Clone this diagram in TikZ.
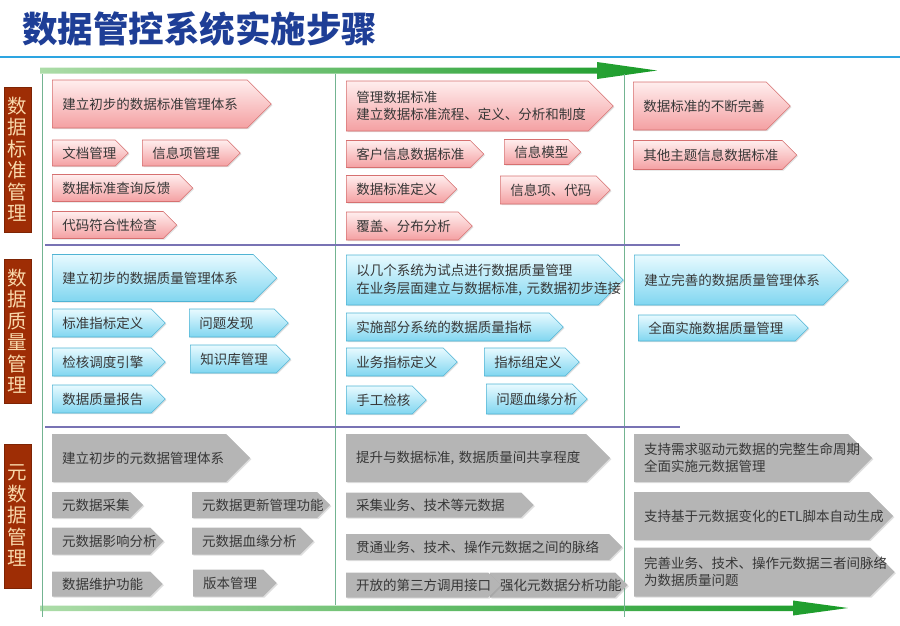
\documentclass[tikz,border=0pt]{standalone}
\usepackage{fontspec}
\setmainfont{Noto Sans CJK SC}
\usetikzlibrary{shapes.symbols,shadows}
\definecolor{titleblue}{RGB}{30,62,150}
\definecolor{ruleblue}{RGB}{45,165,225}
\definecolor{lightgreen}{RGB}{172,220,168}
\definecolor{darkgreen}{RGB}{25,155,40}
\definecolor{gridgreen}{RGB}{115,180,145}
\definecolor{gridpurple}{RGB}{120,115,180}
\definecolor{sidebrown}{RGB}{158,45,5}
\definecolor{sidetext}{RGB}{248,215,170}
\definecolor{pinktop}{RGB}{255,238,238}
\definecolor{pinkbottom}{RGB}{244,160,162}
\definecolor{pinkline}{RGB}{214,112,112}
\definecolor{bluetop}{RGB}{232,250,255}
\definecolor{bluebottom}{RGB}{128,214,240}
\definecolor{blueline}{RGB}{80,180,212}
\definecolor{grayfill}{RGB}{181,181,181}
\definecolor{boxtext}{RGB}{55,55,55}
\begin{document}
\begin{tikzpicture}[x=1pt, y=-1pt,
  stepshape/.style={shape=signal, signal to=east, signal pointer angle=90, inner xsep=10pt, inner ysep=2pt, anchor=west, align=left, text=boxtext, font=\fontsize{13.5}{17.5}\selectfont, drop shadow={opacity=0.25, shadow xshift=1.2pt, shadow yshift=-1.2pt}},
  pinkstep/.style={stepshape, draw=pinkline, line width=0.6pt, top color=pinktop, bottom color=pinkbottom},
  bluestep/.style={stepshape, draw=blueline, line width=0.6pt, top color=bluetop, bottom color=bluebottom},
  graystep/.style={stepshape, fill=grayfill},
  sidelabel/.style={fill=sidebrown, draw=sidebrown!80!black, text=sidetext, minimum width=27pt, inner sep=0pt, align=center, font=\fontsize{19.5}{21.5}\selectfont}]
\useasboundingbox (0,0) rectangle (900,625);
\node[anchor=west, inner sep=0pt, text=titleblue, font=\fontsize{35.5}{36}\selectfont\bfseries] (title) at (22,29) {数据管控系统实施步骤};
\draw[ruleblue, line width=2.5pt] (0,57) -- (900,57);
\shade[left color=lightgreen, right color=darkgreen] (40,67.5) -- (597,67.5) -- (597,62) -- (657,70.5) -- (597,79) -- (597,73.5) -- (40,73.5) -- cycle;
\shade[left color=lightgreen, right color=darkgreen] (40,605.5) -- (793,605.5) -- (793,600.5) -- (848,608) -- (793,615.5) -- (793,611) -- (40,611) -- cycle;
\draw[gridgreen, line width=1pt] (42,74) -- (42,617);
\draw[gridgreen, line width=1pt] (335,74) -- (335,605);
\draw[gridgreen, line width=1pt] (624,74) -- (624,617);
\draw[gridpurple, line width=1.2pt] (45,245) -- (680,245);
\draw[gridpurple, line width=1.2pt] (45,427) -- (680,427);
\node[sidelabel, minimum height=145pt] (sidestd) at (17.5,159.5) {数\\据\\标\\准\\管\\理};
\node[sidelabel, minimum height=144pt] (sidedq) at (17.5,331) {数\\据\\质\\量\\管\\理};
\node[sidelabel, minimum height=144pt] (sidemeta) at (17.5,516) {元\\数\\据\\管\\理};
\node[pinkstep, minimum height=48pt, text width=175pt] (std1) at (52,104) {建立初步的数据标准管理体系};
\node[pinkstep, minimum height=26pt, text width=43pt] (std2) at (52,153) {文档管理};
\node[pinkstep, minimum height=26pt, text width=65pt] (std3) at (142,153) {信息项管理};
\node[pinkstep, minimum height=27pt, text width=107pt] (std4) at (52,188) {数据标准查询反馈};
\node[pinkstep, minimum height=27pt, text width=91pt] (std5) at (52,225) {代码符合性检查};
\node[pinkstep, minimum height=50pt, text width=222pt] (std6) at (346,106) {管理数据标准\\建立数据标准流程、定义、分析和制度};
\node[pinkstep, minimum height=27pt, text width=104pt] (std7) at (346,154) {客户信息数据标准};
\node[pinkstep, minimum height=25pt, text width=44pt] (std8) at (504,152) {信息模型};
\node[pinkstep, minimum height=27pt, text width=77pt] (std9) at (346,189) {数据标准定义};
\node[pinkstep, minimum height=28pt, text width=76pt] (std10) at (500,190) {信息项、代码};
\node[pinkstep, minimum height=28pt, text width=92pt] (std11) at (346,226) {覆盖、分布分析};
\node[pinkstep, minimum height=48pt, text width=113pt] (std12) at (633,106) {数据标准的不断完善};
\node[pinkstep, minimum height=29pt, text width=129pt] (std13) at (633,155) {其他主题信息数据标准};
\node[bluestep, minimum height=47pt, text width=181pt] (dq1) at (52,278) {建立初步的数据质量管理体系};
\node[bluestep, minimum height=28pt, text width=79pt] (dq2) at (52,323) {标准指标定义};
\node[bluestep, minimum height=28pt, text width=65pt] (dq3) at (189,323) {问题发现};
\node[bluestep, minimum height=28pt, text width=79pt] (dq4) at (52,362) {检核调度引擎};
\node[bluestep, minimum height=28pt, text width=66pt] (dq5) at (190,359) {知识库管理};
\node[bluestep, minimum height=28pt, text width=79pt] (dq6) at (52,399) {数据质量报告};
\node[bluestep, minimum height=50pt, text width=232pt] (dq7) at (346,280) {以几个系统为试点进行数据质量管理\\在业务层面建立与数据标准,~元数据初步连接};
\node[bluestep, minimum height=28pt, text width=183pt] (dq8) at (346,327) {实施部分系统的数据质量指标};
\node[bluestep, minimum height=28pt, text width=77pt] (dq9) at (346,362) {业务指标定义};
\node[bluestep, minimum height=28pt, text width=61pt] (dq10) at (484,362) {指标组定义};
\node[bluestep, minimum height=28pt, text width=46pt] (dq11) at (346,400) {手工检核};
\node[bluestep, minimum height=30pt, text width=66pt] (dq12) at (486,399) {问题血缘分析};
\node[bluestep, minimum height=50pt, text width=169pt] (dq13) at (634,280) {建立完善的数据质量管理体系};
\node[bluestep, minimum height=26pt, text width=137pt] (dq14) at (638,328) {全面实施数据质量管理};
\node[graystep, minimum height=48pt, text width=154pt] (meta1) at (52,458) {建立初步的元数据管理体系};
\node[graystep, minimum height=26pt, text width=58pt] (meta2) at (52,505) {元数据采集};
\node[graystep, minimum height=26pt, text width=105pt] (meta3) at (192,505) {元数据更新管理功能};
\node[graystep, minimum height=27pt, text width=78pt] (meta4) at (52,541) {元数据影响分析};
\node[graystep, minimum height=27pt, text width=88pt] (meta5) at (192,541) {元数据血缘分析};
\node[graystep, minimum height=25pt, text width=78pt] (meta6) at (52,584) {数据维护功能};
\node[graystep, minimum height=27pt, text width=50pt] (meta7) at (193,583) {版本管理};
\node[graystep, minimum height=48pt, text width=220pt] (meta8) at (346,458) {提升与数据标准,~数据质量间共享程度};
\node[graystep, minimum height=25pt, text width=155pt] (meta9) at (346,505) {采集业务、技术等元数据};
\node[graystep, minimum height=26pt, text width=243pt] (meta10) at (346,547) {贯通业务、技术、操作元数据之间的脉络};
\node[graystep, minimum height=25pt, text width=105pt] (meta12) at (490,585) {强化元数据分析功能};
\node[graystep, minimum height=25pt, text width=122pt] (meta11) at (346,585) {开放的第三方调用接口};
\node[graystep, minimum height=48pt, text width=194pt] (meta13) at (634,458) {支持需求驱动元数据的完整生命周期\\全面实施元数据管理};
\node[graystep, minimum height=48pt, text width=215pt] (meta14) at (634,516) {支持基于元数据变化的ETL脚本自动生成};
\node[graystep, minimum height=49pt, text width=216pt] (meta15) at (634,572) {完善业务、技术、操作元数据三者间脉络\\为数据质量问题};
\end{tikzpicture}
\end{document}
